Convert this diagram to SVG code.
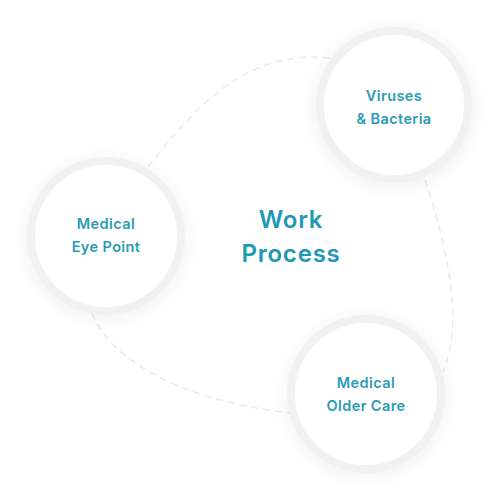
<svg xmlns="http://www.w3.org/2000/svg" width="500" height="500" viewBox="0 0 500 500">
<defs>
<filter id="soft" x="-40%" y="-40%" width="180%" height="180%">
<feGaussianBlur stdDeviation="10"/>
</filter>
</defs>
<style>
.dash{fill:none;stroke:#e9e9e9;stroke-width:1.5;stroke-dasharray:7 5;}
.shadow{fill:#000;opacity:0.05;filter:url(#soft);}
.ring{fill:#fff;stroke:#f1f1f1;stroke-width:8;}
.lbl{font-family:Inter,"Noto Sans",sans-serif;font-weight:600;font-size:14.5px;fill:#2a9bb5;text-anchor:middle;letter-spacing:0.4px;}
.title{font-family:Inter,"Noto Sans",sans-serif;font-weight:600;font-size:24px;fill:#2198b4;text-anchor:middle;letter-spacing:0.8px;}
</style>
<rect width="500" height="500" fill="#fff"/>
<g id="connectors">
<path class="dash" d="M148,167 C200,100 250,50 330,58"/>
<path class="dash" d="M425,180 C445,240 465,320 443,372"/>
<path class="dash" d="M92,313 C110,360 180,400 290,413"/>
</g>
<g id="node-viruses">
<circle class="shadow" cx="394" cy="108" r="80"/>
<circle class="ring" cx="394" cy="105" r="74"/>
<text class="lbl" x="394" y="101">Viruses</text>
<text class="lbl" x="394" y="124">&amp; Bacteria</text>
</g>
<g id="node-eye">
<circle class="shadow" cx="106" cy="239" r="80"/>
<circle class="ring" cx="106" cy="236" r="75"/>
<text class="lbl" x="106" y="229">Medical</text>
<text class="lbl" x="106" y="252">Eye Point</text>
</g>
<g id="node-older">
<circle class="shadow" cx="366" cy="397" r="80"/>
<circle class="ring" cx="366" cy="394" r="75"/>
<text class="lbl" x="366" y="388">Medical</text>
<text class="lbl" x="366" y="411">Older Care</text>
</g>
<g id="center">
<text class="title" x="291" y="228">Work</text>
<text class="title" x="291" y="262">Process</text>
</g>
</svg>
